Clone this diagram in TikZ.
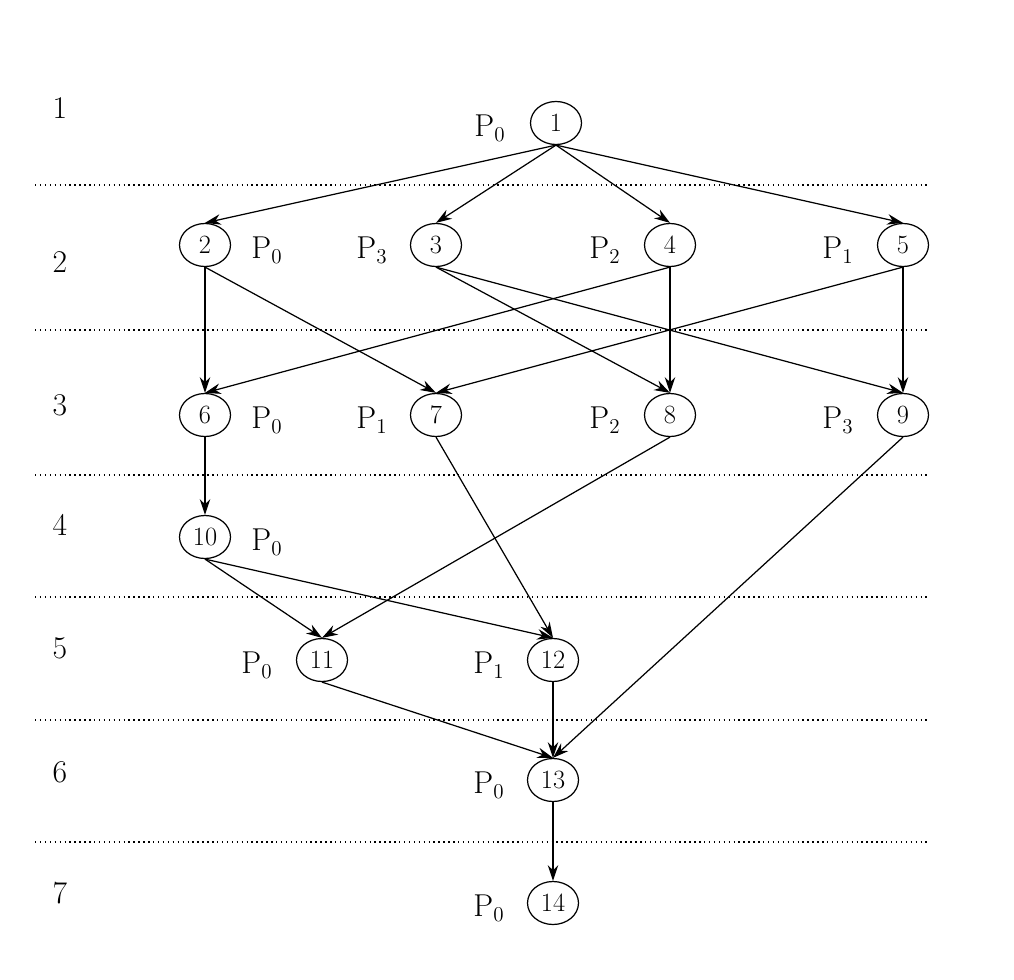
\documentclass[tikz,border=0pt]{standalone}
\usetikzlibrary{arrows.meta,shapes.geometric}
\begin{document}
\begin{tikzpicture}[x=0.02cm,y=-0.02cm,
  tn/.style={draw,line width=0.7pt,ellipse,minimum width=1.02cm,minimum height=0.86cm,inner sep=0pt,font=\fontsize{15}{17}\selectfont},
  pl/.style={font=\fontsize{18}{20}\selectfont},
  rl/.style={font=\fontsize{18}{20}\selectfont},
  ed/.style={-{Stealth[length=9pt,width=6pt]},line width=0.7pt},
  sep/.style={dotted,line width=0.8pt}]
\useasboundingbox (0,0) rectangle (1014,980);
\foreach \y in {185,330,475,597,720,842} \draw[sep] (35,\y) -- (928,\y);
\foreach \t/\y in {1/108,2/262,3/405,4/525,5/648,6/772,7/893} \node[rl] (r\t) at (60,\y) {\t};
\node[tn] (n1) at (556,123) {1};
\node[tn] (n2) at (205,245) {2};
\node[tn] (n3) at (436,245) {3};
\node[tn] (n4) at (670,245) {4};
\node[tn] (n5) at (903,245) {5};
\node[tn] (n6) at (205,415) {6};
\node[tn] (n7) at (436,415) {7};
\node[tn] (n8) at (670,415) {8};
\node[tn] (n9) at (903,415) {9};
\node[tn] (n10) at (205,537) {10};
\node[tn] (n11) at (322,660) {11};
\node[tn] (n12) at (553,660) {12};
\node[tn] (n13) at (553,780) {13};
\node[tn] (n14) at (553,903) {14};
\node[pl] (p1) at (490,128) {P$_0$};
\node[pl] (p2) at (267,250) {P$_0$};
\node[pl] (p3) at (372,250) {P$_3$};
\node[pl] (p4) at (605,250) {P$_2$};
\node[pl] (p5) at (838,250) {P$_1$};
\node[pl] (p6) at (267,420) {P$_0$};
\node[pl] (p7) at (372,420) {P$_1$};
\node[pl] (p8) at (605,420) {P$_2$};
\node[pl] (p9) at (838,420) {P$_3$};
\node[pl] (p10) at (267,542) {P$_0$};
\node[pl] (p11) at (257,665) {P$_0$};
\node[pl] (p12) at (489,665) {P$_1$};
\node[pl] (p13) at (489,785) {P$_0$};
\node[pl] (p14) at (489,908) {P$_0$};
\foreach \a/\b in {1/2,1/3,1/4,1/5,2/6,2/7,3/8,3/9,4/6,4/8,5/7,5/9,6/10,7/12,8/11,9/13,10/11,10/12,11/13,12/13,13/14}
  \draw[ed] (n\a.south) -- (n\b.north);
\end{tikzpicture}
\end{document}
